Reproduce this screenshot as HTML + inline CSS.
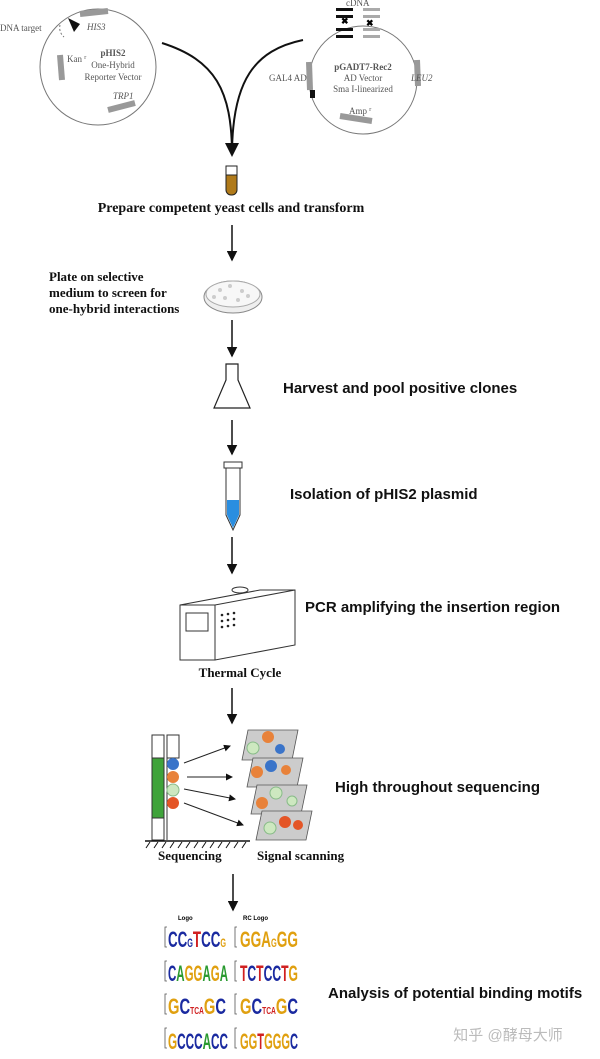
<!DOCTYPE html>
<html><head><meta charset="utf-8"><style>
body{margin:0;background:#fff;}
svg{display:block}
.b{font-family:"Liberation Serif",serif;font-weight:bold;fill:#111}
.s{font-family:"Liberation Sans",sans-serif;font-weight:bold;fill:#111}
.p{font-family:"Liberation Serif",serif;fill:#555;font-size:9px}
.l{font-family:"Liberation Sans",sans-serif;font-weight:bold;font-size:22px}
</style></head><body>
<svg width="600" height="1059" viewBox="0 0 600 1059" xmlns="http://www.w3.org/2000/svg">
<defs><marker id="a" markerWidth="7" markerHeight="7" refX="6" refY="3.5" orient="auto"><path d="M0,0L7,3.5L0,7z" fill="#111"/></marker></defs>
<circle cx="98" cy="67" r="58" fill="none" stroke="#777" stroke-width="1"/>
<path d="M80,14 L108,11" stroke="#999" stroke-width="6"/>
<path d="M60,55 L62,80" stroke="#999" stroke-width="6"/>
<path d="M135,103 L108,110" stroke="#999" stroke-width="6"/>
<path d="M68,18 L80,24 L74,32 z" fill="#111"/>
<path d="M60,25 a12,12 0 0 0 4,12" fill="none" stroke="#777" stroke-dasharray="2,2"/>
<text x="0" y="31" class="p">DNA target</text>
<text x="87" y="30" class="p" font-style="italic">HIS3</text>
<text x="67" y="62" class="p">Kan <tspan font-size="6" dy="-3">r</tspan></text>
<text x="113" y="56" class="p" font-weight="bold" fill="#222" text-anchor="middle">pHIS2</text>
<text x="113" y="68" class="p" text-anchor="middle">One-Hybrid</text>
<text x="113" y="80" class="p" text-anchor="middle">Reporter Vector</text>
<text x="113" y="99" class="p" font-style="italic">TRP1</text>
<circle cx="363" cy="80" r="54" fill="none" stroke="#777"/>
<path d="M309,62 L310,90" stroke="#999" stroke-width="6"/>
<path d="M417,60 L418,86" stroke="#999" stroke-width="6"/>
<path d="M340,116 L372,121" stroke="#999" stroke-width="6"/>
<rect x="310" y="90" width="5" height="8" fill="#111"/>
<g fill="#111"><rect x="336" y="8" width="17" height="3"/><rect x="336" y="15" width="17" height="3"/><rect x="336" y="28" width="17" height="3"/><rect x="336" y="35" width="17" height="3"/></g>
<g fill="#aaa"><rect x="363" y="8" width="17" height="3"/><rect x="363" y="15" width="17" height="3"/><rect x="363" y="28" width="17" height="3"/><rect x="363" y="35" width="17" height="3"/></g>
<text x="341" y="24" font-size="9" font-weight="bold">✖</text><text x="366" y="26" font-size="9" font-weight="bold">✖</text>
<text x="346" y="6" class="p">cDNA</text>
<text x="269" y="81" class="p">GAL4 AD</text>
<text x="363" y="70" class="p" font-weight="bold" fill="#222" text-anchor="middle">pGADT7-Rec2</text>
<text x="363" y="81" class="p" text-anchor="middle">AD Vector</text>
<text x="363" y="92" class="p" text-anchor="middle">Sma I-linearized</text>
<text x="411" y="81" class="p" font-style="italic">LEU2</text>
<text x="349" y="114" class="p">Amp <tspan font-size="6" dy="-3">r</tspan></text>
<path d="M162,43 C215,60 232,90 232,155" fill="none" stroke="#111" stroke-width="2" marker-end="url(#a)"/>
<path d="M303,40 C255,50 232,80 232,155" fill="none" stroke="#111" stroke-width="2"/>
<rect x="226" y="166" width="11" height="29" rx="5" fill="#b07a1a" stroke="#222" stroke-width="1"/>
<rect x="226" y="166" width="11" height="9" fill="#fff" stroke="#222" stroke-width="1"/>
<text x="231" y="212" class="b" font-size="14" text-anchor="middle">Prepare competent yeast cells and transform</text>
<line x1="232" y1="225" x2="232" y2="260" stroke="#111" stroke-width="1.5" marker-end="url(#a)"/>
<ellipse cx="233" cy="297" rx="29" ry="16" fill="#eee" stroke="#888"/>
<ellipse cx="233" cy="294" rx="27" ry="13" fill="#f7f7f7" stroke="#aaa"/>
<g fill="#ccc"><circle cx="220" cy="290" r="2"/><circle cx="230" cy="286" r="2"/><circle cx="242" cy="291" r="2"/><circle cx="225" cy="298" r="2"/><circle cx="238" cy="300" r="2"/><circle cx="248" cy="296" r="2"/><circle cx="214" cy="297" r="2"/></g>
<text class="b" font-size="13"><tspan x="49" y="281">Plate on selective</tspan><tspan x="49" y="297">medium to screen for</tspan><tspan x="49" y="313">one-hybrid interactions</tspan></text>
<line x1="232" y1="320" x2="232" y2="356" stroke="#111" stroke-width="1.5" marker-end="url(#a)"/>
<path d="M226,364 L238,364 L238,380 L250,408 L214,408 L226,380 z" fill="#fff" stroke="#222" stroke-width="1.2"/>
<text x="283" y="393" class="s" font-size="15">Harvest and pool positive clones</text>
<line x1="232" y1="420" x2="232" y2="454" stroke="#111" stroke-width="1.5" marker-end="url(#a)"/>
<rect x="224" y="462" width="18" height="6" fill="#fff" stroke="#333"/>
<path d="M226,468 L240,468 L240,515 L233,530 L226,515 z" fill="#fff" stroke="#333"/>
<path d="M227,500 L239,500 L239,515 L233,528 L227,515 z" fill="#2a8ee0"/>
<text x="290" y="499" class="s" font-size="15">Isolation of pHIS2 plasmid</text>
<line x1="232" y1="537" x2="232" y2="573" stroke="#111" stroke-width="1.5" marker-end="url(#a)"/>
<path d="M180,605 L260,590 L295,590 L295,645 L215,660 L180,660 z" fill="#fff" stroke="#333"/>
<path d="M180,605 L215,605 L295,590" fill="none" stroke="#333"/>
<line x1="215" y1="605" x2="215" y2="660" stroke="#333"/>
<ellipse cx="240" cy="590" rx="8" ry="3" fill="#fff" stroke="#333"/>
<rect x="186" y="613" width="22" height="18" fill="#fff" stroke="#333"/>
<g fill="#222"><circle cx="222" cy="615" r="1.3"/><circle cx="228" cy="614" r="1.3"/><circle cx="234" cy="613" r="1.3"/><circle cx="222" cy="621" r="1.3"/><circle cx="228" cy="620" r="1.3"/><circle cx="234" cy="619" r="1.3"/><circle cx="222" cy="627" r="1.3"/><circle cx="228" cy="626" r="1.3"/><circle cx="234" cy="625" r="1.3"/></g>
<text x="305" y="612" class="s" font-size="15">PCR amplifying the insertion region</text>
<text x="240" y="677" class="b" font-size="13" text-anchor="middle">Thermal Cycle</text>
<line x1="232" y1="688" x2="232" y2="723" stroke="#111" stroke-width="1.5" marker-end="url(#a)"/>
<rect x="152" y="735" width="12" height="23" fill="#fff" stroke="#333"/>
<rect x="167" y="735" width="12" height="23" fill="#fff" stroke="#333"/>
<rect x="152" y="758" width="12" height="60" fill="#3fa33a" stroke="#333"/>
<rect x="152" y="818" width="12" height="22" fill="#fff" stroke="#333"/>
<line x1="167" y1="758" x2="167" y2="840" stroke="#333"/>
<circle cx="173" cy="764" r="6" fill="#3a74c9"/><circle cx="173" cy="777" r="6" fill="#e8823a"/><circle cx="173" cy="790" r="6" fill="#cde8c0" stroke="#8b8"/><circle cx="173" cy="803" r="6" fill="#e45526"/>
<line x1="145" y1="841" x2="250" y2="841" stroke="#111" stroke-width="1.5"/>
<path d="M150,842 l-4,6 M158,842 l-4,6 M166,842 l-4,6 M174,842 l-4,6 M182,842 l-4,6 M190,842 l-4,6 M198,842 l-4,6 M206,842 l-4,6 M214,842 l-4,6 M222,842 l-4,6 M230,842 l-4,6 M238,842 l-4,6 M246,842 l-4,6" stroke="#111"/>
<g stroke="#222" stroke-width="1"><line x1="184" y1="763" x2="230" y2="746" marker-end="url(#a)"/><line x1="187" y1="777" x2="232" y2="777" marker-end="url(#a)"/><line x1="184" y1="789" x2="235" y2="799" marker-end="url(#a)"/><line x1="184" y1="803" x2="243" y2="825" marker-end="url(#a)"/></g>
<g fill="#ccc" stroke="#555" stroke-width="0.8">
<path d="M248,730 L298,730 L292,760 L242,760 z"/><path d="M253,758 L303,758 L297,787 L247,787 z"/><path d="M257,785 L307,785 L301,814 L251,814 z"/><path d="M262,811 L312,811 L306,840 L256,840 z"/></g>
<circle cx="268" cy="737" r="6" fill="#e8823a"/><circle cx="253" cy="748" r="6" fill="#cde8c0" stroke="#8b8"/><circle cx="280" cy="749" r="5" fill="#3a74c9"/>
<circle cx="271" cy="766" r="6" fill="#3a74c9"/><circle cx="257" cy="772" r="6" fill="#e8823a"/><circle cx="286" cy="770" r="5" fill="#e8823a"/>
<circle cx="276" cy="793" r="6" fill="#cde8c0" stroke="#8b8"/><circle cx="262" cy="803" r="6" fill="#e8823a"/><circle cx="292" cy="801" r="5" fill="#cde8c0" stroke="#8b8"/>
<circle cx="285" cy="822" r="6" fill="#e45526"/><circle cx="270" cy="828" r="6" fill="#cde8c0" stroke="#8b8"/><circle cx="298" cy="825" r="5" fill="#e45526"/>
<text x="335" y="792" class="s" font-size="15">High throughout sequencing</text>
<text x="158" y="860" class="b" font-size="13">Sequencing</text>
<text x="257" y="860" class="b" font-size="13">Signal scanning</text>
<line x1="233" y1="874" x2="233" y2="910" stroke="#111" stroke-width="1.5" marker-end="url(#a)"/>
<text x="178" y="920" font-family="Liberation Sans" font-size="6" font-weight="bold">Logo</text>
<text x="243" y="920" font-family="Liberation Sans" font-size="6" font-weight="bold">RC Logo</text>
<g stroke="#555" stroke-width="0.8" fill="none"><path d="M167,927 h-2 v20 h2 M237,927 h-2 v20 h2 M167,961 h-2 v20 h2 M237,961 h-2 v20 h2 M167,994 h-2 v20 h2 M237,994 h-2 v20 h2 M167,1028 h-2 v20 h2 M237,1028 h-2 v20 h2"/></g>
<g class="l">
<text x="168" y="947" textLength="58" lengthAdjust="spacingAndGlyphs"><tspan fill="#1a2aa0">CC</tspan><tspan fill="#1a2aa0" font-size="12">G</tspan><tspan fill="#d02020">T</tspan><tspan fill="#1a2aa0">CC</tspan><tspan fill="#e0a010" font-size="12">G</tspan></text>
<text x="240" y="947" textLength="58" lengthAdjust="spacingAndGlyphs"><tspan fill="#e0a010">GGA</tspan><tspan fill="#e0a010" font-size="12">G</tspan><tspan fill="#e0a010">GG</tspan></text>
<text x="168" y="981" textLength="60" lengthAdjust="spacingAndGlyphs"><tspan fill="#1a2aa0">C</tspan><tspan fill="#2a9a30">A</tspan><tspan fill="#e0a010">GG</tspan><tspan fill="#2a9a30">A</tspan><tspan fill="#e0a010">G</tspan><tspan fill="#2a9a30">A</tspan></text>
<text x="240" y="981" textLength="58" lengthAdjust="spacingAndGlyphs"><tspan fill="#d02020">T</tspan><tspan fill="#1a2aa0">C</tspan><tspan fill="#d02020">T</tspan><tspan fill="#1a2aa0">CC</tspan><tspan fill="#d02020">T</tspan><tspan fill="#e0a010">G</tspan></text>
<text x="168" y="1014" textLength="58" lengthAdjust="spacingAndGlyphs"><tspan fill="#e0a010">G</tspan><tspan fill="#1a2aa0">C</tspan><tspan fill="#d02020" font-size="10">TCA</tspan><tspan fill="#e0a010">G</tspan><tspan fill="#1a2aa0">C</tspan></text>
<text x="240" y="1014" textLength="58" lengthAdjust="spacingAndGlyphs"><tspan fill="#e0a010">G</tspan><tspan fill="#1a2aa0">C</tspan><tspan fill="#d02020" font-size="10">TCA</tspan><tspan fill="#e0a010">G</tspan><tspan fill="#1a2aa0">C</tspan></text>
<text x="168" y="1049" textLength="60" lengthAdjust="spacingAndGlyphs"><tspan fill="#e0a010">G</tspan><tspan fill="#1a2aa0">CCC</tspan><tspan fill="#2a9a30">A</tspan><tspan fill="#1a2aa0">CC</tspan></text>
<text x="240" y="1049" textLength="58" lengthAdjust="spacingAndGlyphs"><tspan fill="#e0a010">GG</tspan><tspan fill="#d02020">T</tspan><tspan fill="#e0a010">GGG</tspan><tspan fill="#1a2aa0">C</tspan></text>
</g>
<text x="328" y="998" class="s" font-size="15">Analysis of potential binding motifs</text>
<text x="508" y="1040" font-family="Liberation Sans,'Noto Sans CJK SC',sans-serif" font-size="15" fill="#bbb" text-anchor="middle">知乎 @酵母大师</text>
</svg>
</body></html>
